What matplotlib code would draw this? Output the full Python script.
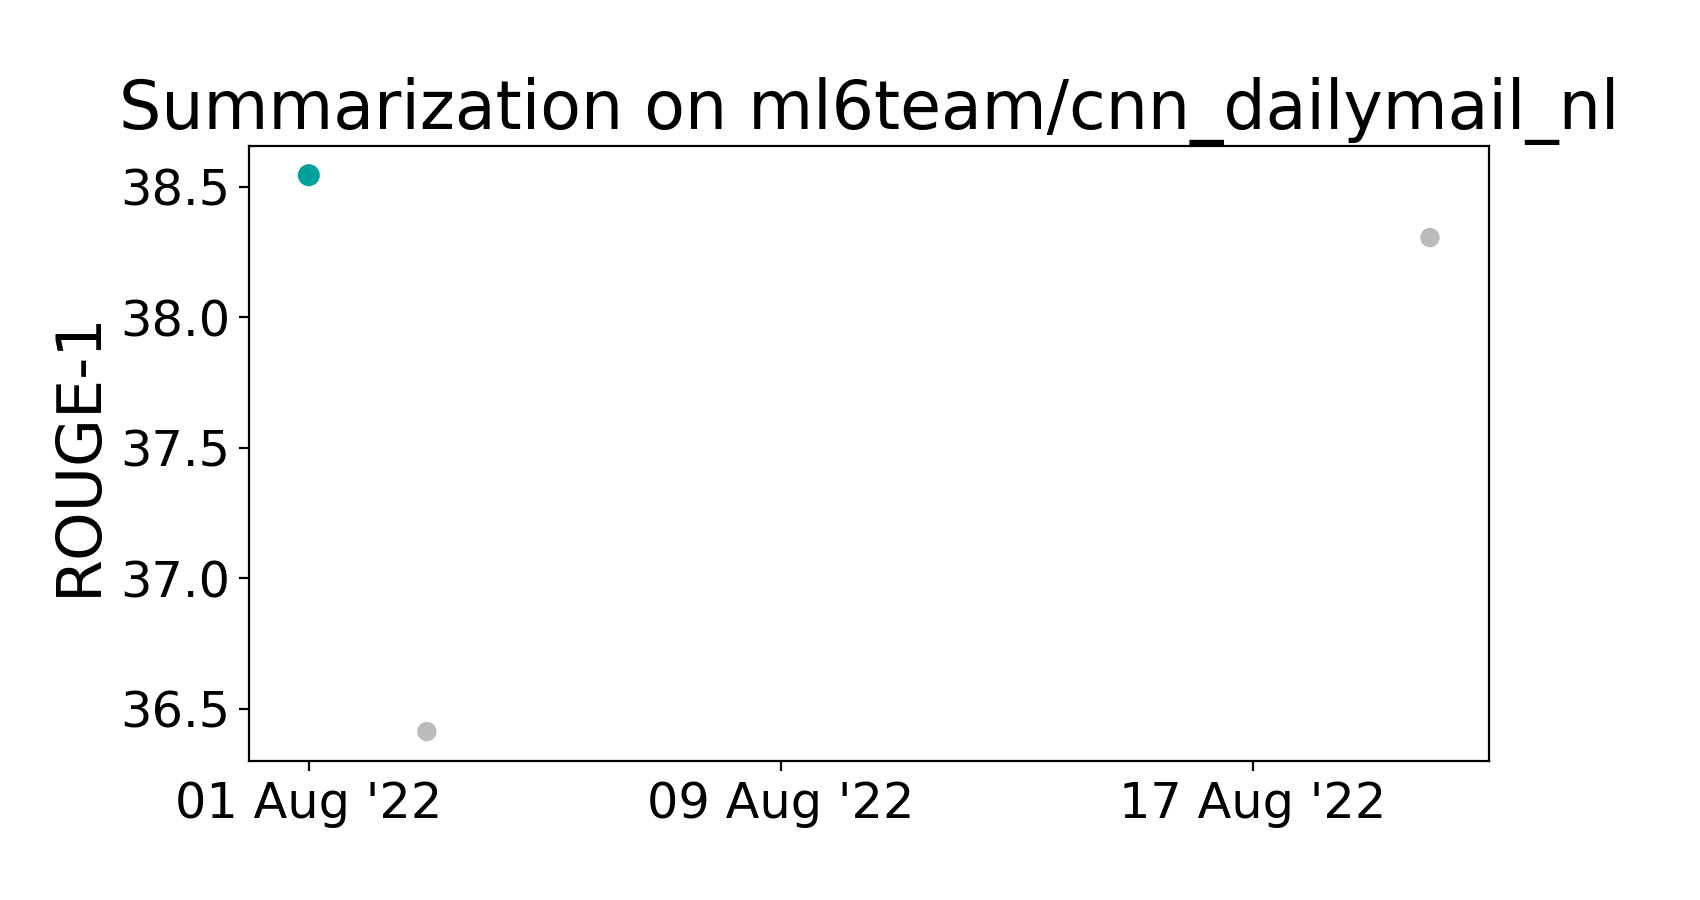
import numpy as np
import matplotlib
matplotlib.use("Agg")
import matplotlib.pyplot as plt
import matplotlib.dates as mdates

# data
dates = np.array(["2022-08-01", "2022-08-03", "2022-08-20"], dtype="datetime64[D]")
rouge1 = [38.545, 36.413, 38.306]
highlight = [True, False, False]

tick_days = [1, 9, 17, 25]

colors = ["#00A19A" if h else "#BBBBBB" for h in highlight]
sizes = [48 if h else 36 for h in highlight]

fig = plt.figure(figsize=(8.5, 4.5), dpi=200)
ax = fig.add_axes([0.1467, 0.1544, 0.7294, 0.6837])

ax.scatter(dates, rouge1, c=colors, s=sizes, zorder=3)
ax.margins(0.053)

ax.xaxis.set_major_locator(mdates.DayLocator(bymonthday=tick_days))
ax.xaxis.set_major_formatter(mdates.DateFormatter("%d %b '%y"))
ax.tick_params(labelsize=17.8)
ax.set_ylabel("ROUGE-1", fontsize=22.3)
ax.set_title("Summarization on ml6team/cnn_dailymail_nl", fontsize=24)

fig.savefig("out.png", dpi=200)
